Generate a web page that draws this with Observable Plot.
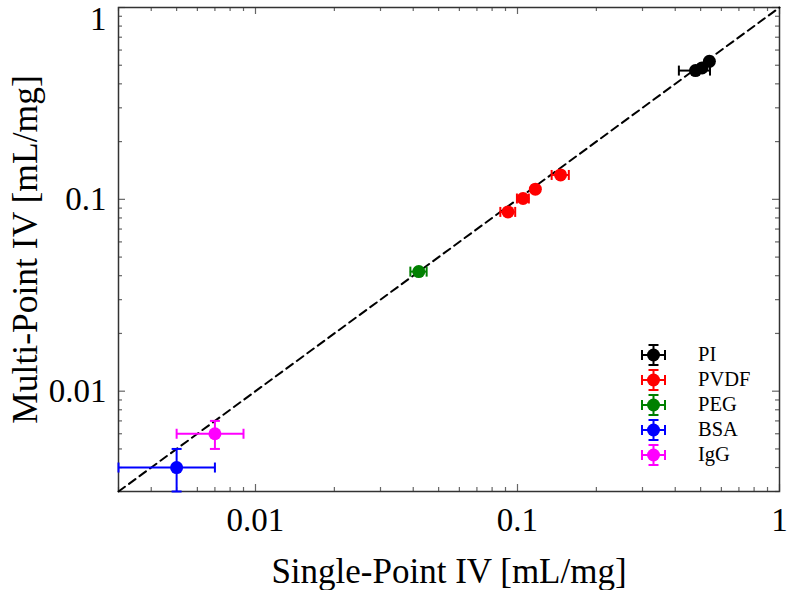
<!DOCTYPE html>
<html>
<head>
<meta charset="utf-8">
<script src="https://cdn.jsdelivr.net/npm/d3@7"></script>
<script src="https://cdn.jsdelivr.net/npm/@observablehq/plot@0.6"></script>
<style>
  html, body { margin: 0; padding: 0; background: #fff; }
  #wrap { position: relative; width: 787px; height: 590px; font-family: "Liberation Serif", "DejaVu Serif", serif; }
  #legend { position: absolute; left: 640px; top: 342px; }
  .row { display: flex; align-items: center; height: 25px; }
  .row svg { width: 28px; height: 24px; display: block; }
  .row span { margin-left: 30px; font-size: 20.5px; line-height: 25px; color: #000; }
</style>
</head>
<body>
<div id="wrap"></div>
<script>
// ---- data ----
const seriesNames = ["PI", "PVDF", "PEG", "BSA", "IgG"];
const seriesColors = ["#000000", "#ff0000", "#008000", "#0000ff", "#ff00ff"];

const pointSeries  = ["PI", "PI", "PI", "PVDF", "PVDF", "PVDF", "PVDF", "PEG", "BSA", "IgG"];
const singlePointIV = [0.478, 0.506, 0.540, 0.092, 0.105, 0.117, 0.146, 0.042, 0.005, 0.007];
const multiPointIV  = [0.469, 0.484, 0.524, 0.086, 0.101, 0.113, 0.134, 0.042, 0.004, 0.006];
const singleErr     = [0.065, 0.010, 0.010, 0.006, 0.0055, 0.003, 0.011, 0.003, 0.002, 0.002];
const multiErr      = [0.010, 0.010, 0.010, 0.002, 0.002, 0.002, 0.002, 0.001, 0.001, 0.001];

const axisDomain = [0.003, 1];
const identityLine = [[0.003, 0.003], [1, 1]];
const majorTicks = [0.01, 0.1, 1];
const tickLabels = ["0.01", "0.1", "1"];
const minorTicks = [0.003, 0.004, 0.005, 0.006, 0.007, 0.008, 0.009,
                    0.02, 0.03, 0.04, 0.05, 0.06, 0.07, 0.08, 0.09,
                    0.2, 0.3, 0.4, 0.5, 0.6, 0.7, 0.8, 0.9];
const xTitle = "Single-Point IV [mL/mg]";
const yTitle = "Multi-Point IV [mL/mg]";

// ---- build table ----
const points = pointSeries.map((s, i) => ({
  series: s, x: singlePointIV[i], y: multiPointIV[i], xe: singleErr[i], ye: multiErr[i]
}));
const colorOf = s => seriesColors[seriesNames.indexOf(s)];
const labelOf = d => tickLabels[majorTicks.indexOf(d)];

// ---- layout ----
const W = 787, H = 590, mL = 118, mR = 8, mT = 7, mB = 99;
const plotW = W - mL - mR, plotH = H - mT - mB;
const majorLen = 7, minorLen = 4;
const font = "Liberation Serif";

const vbar = { draw(ctx, size) { const h = Math.sqrt(size / Math.PI); ctx.moveTo(0, -h); ctx.lineTo(0, h); } };
const hbar = { draw(ctx, size) { const h = Math.sqrt(size / Math.PI); ctx.moveTo(-h, 0); ctx.lineTo(h, 0); } };

const tickStyle = { stroke: "#666", strokeWidth: 1.2 };
const ebar = { strokeWidth: 2 };

const chart = Plot.plot({
  width: W, height: H,
  marginLeft: mL, marginRight: mR, marginTop: mT, marginBottom: mB,
  style: { fontFamily: font, background: "#fff", overflow: "visible" },
  x: { type: "log", domain: axisDomain, axis: null },
  y: { type: "log", domain: axisDomain, axis: null },
  marks: [
    // ticks inside the frame on all four sides
    Plot.ruleX(minorTicks, { x: d => d, insetTop: plotH - minorLen, ...tickStyle }),
    Plot.ruleX(minorTicks, { x: d => d, insetBottom: plotH - minorLen, ...tickStyle }),
    Plot.ruleX(majorTicks, { x: d => d, insetTop: plotH - majorLen, ...tickStyle }),
    Plot.ruleX(majorTicks, { x: d => d, insetBottom: plotH - majorLen, ...tickStyle }),
    Plot.ruleY(minorTicks, { y: d => d, insetRight: plotW - minorLen, ...tickStyle }),
    Plot.ruleY(minorTicks, { y: d => d, insetLeft: plotW - minorLen, ...tickStyle }),
    Plot.ruleY(majorTicks, { y: d => d, insetRight: plotW - majorLen, ...tickStyle }),
    Plot.ruleY(majorTicks, { y: d => d, insetLeft: plotW - majorLen, ...tickStyle }),
    Plot.frame({ stroke: "#333", strokeWidth: 1.5 }),
    // tick labels
    Plot.text(majorTicks, { x: d => d, text: labelOf, frameAnchor: "bottom", lineAnchor: "middle", textAnchor: "middle", dy: 29, fontSize: 33, fill: "#000" }),
    Plot.text(majorTicks.filter(d => d < 1), { y: d => d, text: labelOf, frameAnchor: "left", lineAnchor: "middle", textAnchor: "end", dx: -12, fontSize: 33, fill: "#000" }),
    Plot.text(majorTicks.filter(d => d === 1), { y: d => d, text: labelOf, frameAnchor: "left", lineAnchor: "middle", textAnchor: "end", dx: -12, dy: 12, fontSize: 33, fill: "#000" }),
    // axis titles
    Plot.text([xTitle], { text: d => d, frameAnchor: "bottom", lineAnchor: "middle", textAnchor: "middle", dy: 80, fontSize: 35, fill: "#000" }),
    Plot.text([yTitle], { text: d => d, frameAnchor: "left", lineAnchor: "middle", textAnchor: "middle", rotate: -90, dx: -93, fontSize: 35.5, fill: "#000" }),
    // identity line
    Plot.line(identityLine, { x: d => d[0], y: d => d[1], stroke: "#000", strokeWidth: 2, strokeDasharray: "8,5" }),
    // error bars
    Plot.ruleY(points, { y: "y", x1: d => d.x - d.xe, x2: d => d.x + d.xe, stroke: d => colorOf(d.series), ...ebar }),
    Plot.ruleX(points, { x: "x", y1: d => d.y - d.ye, y2: d => d.y + d.ye, stroke: d => colorOf(d.series), ...ebar }),
    Plot.dot(points, { x: d => d.x - d.xe, y: "y", symbol: vbar, r: 5, fill: "none", stroke: d => colorOf(d.series), ...ebar }),
    Plot.dot(points, { x: d => d.x + d.xe, y: "y", symbol: vbar, r: 5, fill: "none", stroke: d => colorOf(d.series), ...ebar }),
    Plot.dot(points, { x: "x", y: d => d.y - d.ye, symbol: hbar, r: 5, fill: "none", stroke: d => colorOf(d.series), ...ebar }),
    Plot.dot(points, { x: "x", y: d => d.y + d.ye, symbol: hbar, r: 5, fill: "none", stroke: d => colorOf(d.series), ...ebar }),
    // markers
    Plot.dot(points, { x: "x", y: "y", r: 6.5, fill: d => colorOf(d.series), stroke: "none" })
  ]
});
chart.style.color = "#000";
const wrap = document.getElementById("wrap");
wrap.appendChild(chart);

// legend (inside plot area, as in reference)
const legend = document.createElement("div");
legend.id = "legend";
seriesNames.forEach((name, i) => {
  const c = seriesColors[i];
  const row = document.createElement("div");
  row.className = "row";
  row.innerHTML =
    `<svg viewBox="0 0 28 24"><g stroke="${c}" stroke-width="2" fill="none">
       <line x1="2" y1="12" x2="25" y2="12"/><line x1="2" y1="7" x2="2" y2="17"/><line x1="25" y1="7" x2="25" y2="17"/>
       <line x1="13.5" y1="2" x2="13.5" y2="22"/><line x1="8.5" y1="2" x2="18.5" y2="2"/><line x1="8.5" y1="22" x2="18.5" y2="22"/>
     </g><circle cx="13.5" cy="12" r="6.5" fill="${c}"/></svg><span>${name}</span>`;
  legend.appendChild(row);
});
wrap.appendChild(legend);
</script>
</body>
</html>
